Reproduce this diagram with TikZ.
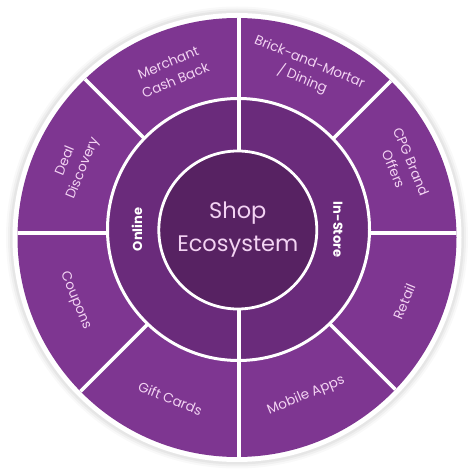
\documentclass[tikz,border=0pt]{standalone}
\usepackage{fontspec}
\setmainfont{Poppins}
\definecolor{outerp}{HTML}{7E3691}
\definecolor{midp}{HTML}{6A2B7B}
\definecolor{innp}{HTML}{572262}
\definecolor{txt}{HTML}{F3D3F3}
\begin{document}
\begin{tikzpicture}[x=1pt,y=1pt,
  seg/.style={text=txt, font=\fontsize{13.5}{19}\selectfont, align=center, inner sep=0pt},
  ringlabel/.style={text=white, font=\bfseries\fontsize{13}{15}\selectfont, inner sep=0pt},
  sep/.style={draw=white, line width=3.5pt}]
\useasboundingbox (0,0) rectangle (474,474);
\coordinate (O) at (237,236.5);
\coordinate (D) at (238.8,241);
\coordinate (M) at (238.5,244.5);
\coordinate (I) at (237.8,244);
% shadow and white rim
\foreach \r/\o in {231/0.025,229/0.035,227/0.045} \fill[black,opacity=\o] (O) circle (\r);
\fill[white] (O) circle (224.5);
\fill[outerp] (O) circle (219.5);
% outer separators
\begin{scope}
\clip (O) circle (219.5);
\foreach \a in {0,45,...,315} \draw[sep] (D) -- ++(\a:250);
\end{scope}
% middle ring
\fill[midp] (M) circle (131);
\begin{scope}
\clip (M) circle (131);
\draw[sep] (D) -- ++(90:150);
\draw[sep] (D) -- ++(270:150);
\end{scope}
\draw[white, line width=3pt] (M) circle (131);
% inner circle
\fill[innp] (I) circle (79);
\draw[white, line width=2.8pt] (I) circle (79);
% labels
\node[seg, rotate=-67.5] (cpg) at ([shift={(22.5:177)}]D) {CPG Brand\\Offers};
\node[seg, rotate=-22.5] (bmd) at ([shift={(67.5:175)}]D) {Brick-and-Mortar\\/ Dining};
\node[seg, rotate=22.5] (mcb) at ([shift={(112.5:175)}]D) {Merchant\\Cash Back};
\node[seg, rotate=67.5] (deal) at ([shift={(157.5:178)}]D) {Deal\\Discovery};
\node[seg, rotate=-67.5] (coup) at ([shift={(202.5:177)}]D) {Coupons};
\node[seg, rotate=-22.5] (gift) at ([shift={(247.5:179)}]D) {Gift Cards};
\node[seg, rotate=22.5] (mob) at ([shift={(292.5:176)}]D) {Mobile Apps};
\node[seg, rotate=67.5] (ret) at ([shift={(337.5:179)}]D) {Retail};
\node[ringlabel, rotate=90] (online) at ([shift={(180:101.5)}]M) {Online};
\node[ringlabel, rotate=-90] (instore) at ([shift={(0:99.5)}]M) {In-Store};
\node[text=txt, font=\fontsize{22.5}{33}\selectfont, align=center] (shop) at (I) {Shop\\Ecosystem};
\end{tikzpicture}
\end{document}
